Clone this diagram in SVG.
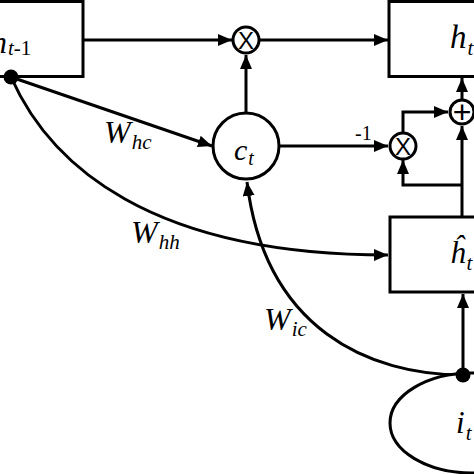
<svg xmlns="http://www.w3.org/2000/svg" width="474" height="474" viewBox="0 0 474 474">
<style>
.ln{fill:none;stroke:#000;stroke-width:3}
.nd{fill:#fff;stroke:#000;stroke-width:3}
.m{font-family:"Liberation Serif","Times New Roman",serif;font-style:italic;fill:#000}
.u{font-family:"Liberation Serif","Times New Roman",serif;font-style:normal;fill:#000}
.op{font-family:"Liberation Sans",Arial,sans-serif;fill:#000;text-anchor:middle}
</style>
<defs>
<marker id="ar" markerUnits="userSpaceOnUse" markerWidth="14" markerHeight="12" refX="14" refY="6" orient="auto">
<path d="M0,0 L14,6 L0,12 z" fill="#000"/>
</marker>
</defs>
<g id="connectors">
<path class="ln" d="M83,40 H232" marker-end="url(#ar)"/>
<path class="ln" d="M246,113 V55" marker-end="url(#ar)"/>
<path class="ln" d="M260,40 H388" marker-end="url(#ar)"/>
<path class="ln" d="M11,77 L212,146" marker-end="url(#ar)"/>
<path class="ln" d="M279,146 H388" marker-end="url(#ar)"/>
<path class="ln" d="M403,132 V112 H448" marker-end="url(#ar)"/>
<path class="ln" d="M462,217 V126" marker-end="url(#ar)"/>
<path class="ln" d="M462,185 H403 V160" marker-end="url(#ar)"/>
<path class="ln" d="M462,99 V78" marker-end="url(#ar)"/>
<path class="ln" d="M463,375 V294" marker-end="url(#ar)"/>
<path class="ln" d="M11,77 C50,165 150,255 388,255" marker-end="url(#ar)"/>
<path class="ln" d="M463,375 C370,375 265,330 247,182" marker-end="url(#ar)"/>
<text class="m" x="104" y="143" font-size="32">W<tspan font-size="21" dx="1" dy="6">hc</tspan></text>
<text class="m" x="131" y="243" font-size="32">W<tspan font-size="21" dx="1" dy="6">hh</tspan></text>
<text class="m" x="264" y="330" font-size="32">W<tspan font-size="21" dx="1" dy="6">ic</tspan></text>
<text class="u" x="355" y="140" font-size="20">-1</text>
</g>
<g id="h_prev">
<rect class="nd" x="-10" y="1.5" width="93" height="75"/>
<text class="m" x="-9" y="53" font-size="32">h<tspan font-size="21" dx="1" dy="2">t</tspan><tspan class="u" font-size="21">-1</tspan></text>
</g>
<g id="dot_h"><circle cx="11" cy="77" r="7.5" fill="#000"/></g>
<g id="mul_top">
<circle class="nd" cx="246" cy="40" r="13"/>
<text class="op" x="246" y="48.5" font-size="24">X</text>
</g>
<g id="c_t">
<circle class="nd" cx="246" cy="146" r="33"/>
<text class="m" x="234" y="160" font-size="30">c<tspan font-size="20" dx="1" dy="5">t</tspan></text>
</g>
<g id="h_t">
<rect class="nd" x="389" y="1.5" width="100" height="75"/>
<text class="m" x="450" y="48" font-size="33">h<tspan font-size="21" dx="1" dy="7">t</tspan></text>
</g>
<g id="mul_low">
<circle class="nd" cx="403" cy="146" r="13"/>
<text class="op" x="403" y="154.5" font-size="24">X</text>
</g>
<g id="add">
<circle class="nd" cx="462" cy="112" r="12"/>
<text class="op" x="462" y="123" font-size="32">+</text>
</g>
<g id="h_hat">
<rect class="nd" x="390" y="217" width="100" height="75"/>
<text class="m" x="450" y="263" font-size="31">ĥ<tspan font-size="21" dx="1" dy="7">t</tspan></text>
</g>
<g id="i_t">
<ellipse class="nd" cx="472" cy="423" rx="82" ry="50"/>
<text class="m" x="456" y="433" font-size="31">i<tspan font-size="21" dx="1" dy="7">t</tspan></text>
</g>
<g id="dot_i"><circle cx="463" cy="375" r="7.5" fill="#000"/></g>
</svg>
